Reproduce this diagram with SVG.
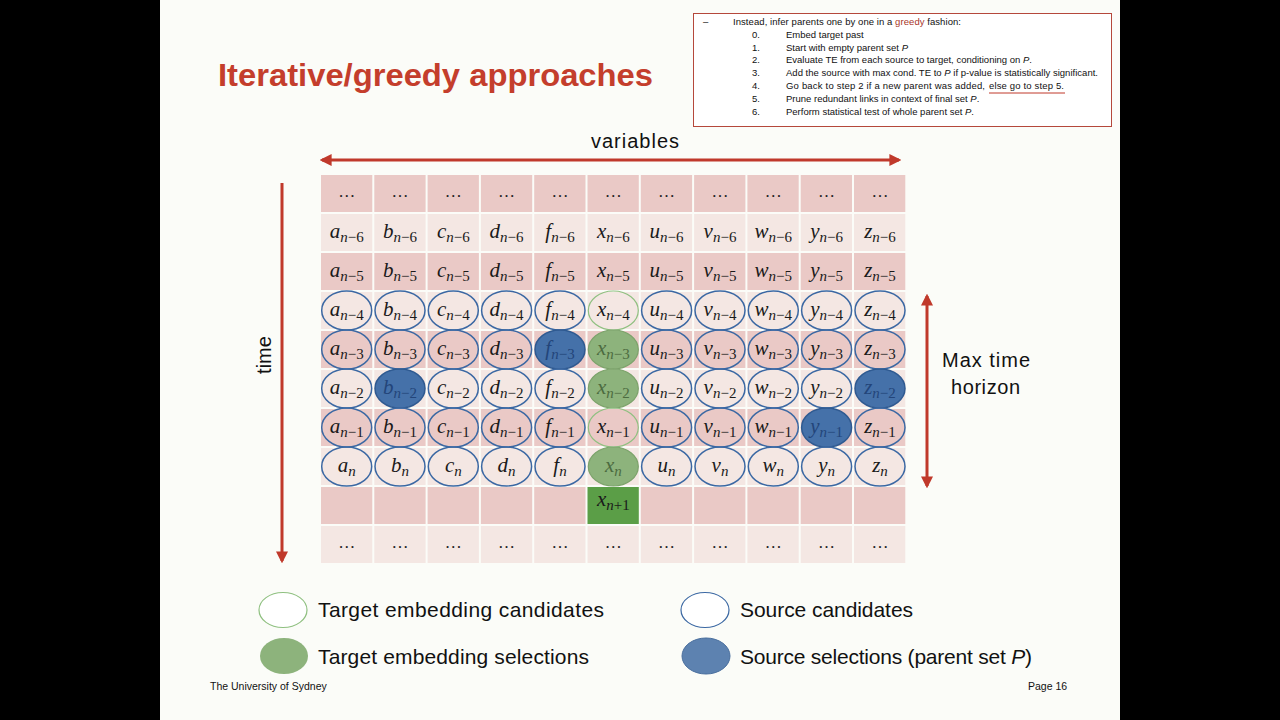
<svg xmlns="http://www.w3.org/2000/svg" width="1280" height="720" viewBox="0 0 1280 720">
<defs>
<style>
.bg{fill:#fbfcf8}
.pk{fill:#eac9c6}
.lt{fill:#f4e7e3}
.m{font-family:"Liberation Serif",serif;font-style:italic;font-size:21px;fill:#1a1a1a;text-anchor:middle}
.s{font-size:15px}
.u{font-size:15px;font-style:normal}
.dots{font-family:"Liberation Serif",serif;font-size:17px;fill:#222;text-anchor:middle}
.ec{fill:none;stroke:#3b68a3;stroke-width:1.5}
.es{fill:#4571a9;stroke:#2f5a91;stroke-width:1.5}
.tc{fill:none;stroke:#8fc080;stroke-width:1.2}
.ts{fill:#8db37c;stroke:#7ca36b;stroke-width:1.2}
.mb{fill:#23457a}
.mg{fill:#4c6b3f}
.arr{stroke:#c0392b;stroke-width:3;fill:none}
.lbl{font-family:"Liberation Sans",sans-serif;font-size:20px;fill:#111}
.leg{font-family:"Liberation Sans",sans-serif;font-size:21px;fill:#111}
.box{font-family:"Liberation Sans",sans-serif;font-size:9.5px;fill:#111}
.foot{font-family:"Liberation Sans",sans-serif;font-size:10.5px;fill:#111}
</style>
<marker id="ah" viewBox="0 0 10 10" refX="8" refY="5" markerWidth="4" markerHeight="4" orient="auto-start-reverse" markerUnits="strokeWidth">
<path d="M0,0 L10,5 L0,10 z" fill="#c0392b"/>
</marker>
</defs>
<rect x="0" y="0" width="1280" height="720" fill="#000"/>
<rect class="bg" x="160" y="0" width="960" height="720"/>

<g id="title">
<text x="218" y="86" font-family="Liberation Sans, sans-serif" font-weight="bold" font-size="31" fill="#c43e2c" textLength="435" lengthAdjust="spacingAndGlyphs">Iterative/greedy approaches</text>
</g>

<g id="algorithm-box">
<rect x="693.5" y="13.5" width="418" height="113" fill="#fff" stroke="#b5483b" stroke-width="1"/>
<text class="box" x="703" y="25">–</text>
<text class="box" x="733" y="25" textLength="228">Instead, infer parents one by one in a <tspan fill="#a8362a">greedy</tspan> fashion:</text>
<text class="box" x="752" y="38">0.</text><text class="box" x="786" y="38">Embed target past</text>
<text class="box" x="752" y="51">1.</text><text class="box" x="786" y="51">Start with empty parent set <tspan font-style="italic">P</tspan></text>
<text class="box" x="752" y="63">2.</text><text class="box" x="786" y="63">Evaluate TE from each source to target, conditioning on <tspan font-style="italic">P</tspan>.</text>
<text class="box" x="752" y="76">3.</text><text class="box" x="786" y="76" textLength="312">Add the source with max cond. TE to <tspan font-style="italic">P</tspan> if p-value is statistically significant.</text>
<text class="box" x="752" y="89">4.</text><text class="box" x="786" y="89" textLength="199">Go back to step 2 if a new parent was added,</text><text class="box" x="989" y="89" textLength="75">else go to step 5.</text>
<line x1="989" y1="93" x2="1065" y2="93" stroke="#c0392b" stroke-width="1"/>
<text class="box" x="752" y="102">5.</text><text class="box" x="786" y="102">Prune redundant links in context of final set <tspan font-style="italic">P</tspan>.</text>
<text class="box" x="752" y="115">6.</text><text class="box" x="786" y="115">Perform statistical test of whole parent set <tspan font-style="italic">P</tspan>.</text>
</g>

<g id="connectors">
<line class="arr" x1="322" y1="160" x2="899" y2="160" marker-start="url(#ah)" marker-end="url(#ah)"/>
<line class="arr" x1="282" y1="183" x2="282" y2="561" marker-end="url(#ah)"/>
<line class="arr" x1="927" y1="296" x2="927" y2="486" marker-start="url(#ah)" marker-end="url(#ah)"/>
</g>

<g id="axis-labels">
<text class="lbl" x="591" y="148" textLength="88">variables</text>
<text class="lbl" x="0" y="0" text-anchor="middle" transform="translate(271,355) rotate(-90)">time</text>
<text class="lbl" x="942" y="367" textLength="88">Max time</text>
<text class="lbl" x="951" y="394" textLength="69">horizon</text>
</g>

<g id="grid-cells">
<g id="row-top-dots">
<rect class="pk" x="321" y="175" width="51.3" height="37"/><rect class="pk" x="374.3" y="175" width="51.3" height="37"/><rect class="pk" x="427.6" y="175" width="51.3" height="37"/><rect class="pk" x="480.9" y="175" width="51.3" height="37"/><rect class="pk" x="534.2" y="175" width="51.3" height="37"/><rect class="pk" x="587.5" y="175" width="51.3" height="37"/><rect class="pk" x="640.8" y="175" width="51.3" height="37"/><rect class="pk" x="694.1" y="175" width="51.3" height="37"/><rect class="pk" x="747.4" y="175" width="51.3" height="37"/><rect class="pk" x="800.7" y="175" width="51.3" height="37"/><rect class="pk" x="854" y="175" width="51.3" height="37"/>
<text class="dots" x="346.7" y="197">…</text><text class="dots" x="400" y="197">…</text><text class="dots" x="453.3" y="197">…</text><text class="dots" x="506.6" y="197">…</text><text class="dots" x="560" y="197">…</text><text class="dots" x="613.3" y="197">…</text><text class="dots" x="666.6" y="197">…</text><text class="dots" x="720" y="197">…</text><text class="dots" x="773.3" y="197">…</text><text class="dots" x="826.6" y="197">…</text><text class="dots" x="880" y="197">…</text>
</g>
<g id="row-n6">
<rect class="lt" x="321" y="214" width="51.3" height="37"/><rect class="lt" x="374.3" y="214" width="51.3" height="37"/><rect class="lt" x="427.6" y="214" width="51.3" height="37"/><rect class="lt" x="480.9" y="214" width="51.3" height="37"/><rect class="lt" x="534.2" y="214" width="51.3" height="37"/><rect class="lt" x="587.5" y="214" width="51.3" height="37"/><rect class="lt" x="640.8" y="214" width="51.3" height="37"/><rect class="lt" x="694.1" y="214" width="51.3" height="37"/><rect class="lt" x="747.4" y="214" width="51.3" height="37"/><rect class="lt" x="800.7" y="214" width="51.3" height="37"/><rect class="lt" x="854" y="214" width="51.3" height="37"/>
<text class="m" x="346.7" y="238">a<tspan class="s" dy="4">n</tspan><tspan class="u">−6</tspan></text>
<text class="m" x="400" y="238">b<tspan class="s" dy="4">n</tspan><tspan class="u">−6</tspan></text>
<text class="m" x="453.3" y="238">c<tspan class="s" dy="4">n</tspan><tspan class="u">−6</tspan></text>
<text class="m" x="506.6" y="238">d<tspan class="s" dy="4">n</tspan><tspan class="u">−6</tspan></text>
<text class="m" x="560" y="238">f<tspan class="s" dy="4">n</tspan><tspan class="u">−6</tspan></text>
<text class="m" x="613.3" y="238">x<tspan class="s" dy="4">n</tspan><tspan class="u">−6</tspan></text>
<text class="m" x="666.6" y="238">u<tspan class="s" dy="4">n</tspan><tspan class="u">−6</tspan></text>
<text class="m" x="720" y="238">v<tspan class="s" dy="4">n</tspan><tspan class="u">−6</tspan></text>
<text class="m" x="773.3" y="238">w<tspan class="s" dy="4">n</tspan><tspan class="u">−6</tspan></text>
<text class="m" x="826.6" y="238">y<tspan class="s" dy="4">n</tspan><tspan class="u">−6</tspan></text>
<text class="m" x="880" y="238">z<tspan class="s" dy="4">n</tspan><tspan class="u">−6</tspan></text>
</g>
<g id="row-n5">
<rect class="pk" x="321" y="253" width="51.3" height="37"/><rect class="pk" x="374.3" y="253" width="51.3" height="37"/><rect class="pk" x="427.6" y="253" width="51.3" height="37"/><rect class="pk" x="480.9" y="253" width="51.3" height="37"/><rect class="pk" x="534.2" y="253" width="51.3" height="37"/><rect class="pk" x="587.5" y="253" width="51.3" height="37"/><rect class="pk" x="640.8" y="253" width="51.3" height="37"/><rect class="pk" x="694.1" y="253" width="51.3" height="37"/><rect class="pk" x="747.4" y="253" width="51.3" height="37"/><rect class="pk" x="800.7" y="253" width="51.3" height="37"/><rect class="pk" x="854" y="253" width="51.3" height="37"/>
<text class="m" x="346.7" y="277">a<tspan class="s" dy="4">n</tspan><tspan class="u">−5</tspan></text>
<text class="m" x="400" y="277">b<tspan class="s" dy="4">n</tspan><tspan class="u">−5</tspan></text>
<text class="m" x="453.3" y="277">c<tspan class="s" dy="4">n</tspan><tspan class="u">−5</tspan></text>
<text class="m" x="506.6" y="277">d<tspan class="s" dy="4">n</tspan><tspan class="u">−5</tspan></text>
<text class="m" x="560" y="277">f<tspan class="s" dy="4">n</tspan><tspan class="u">−5</tspan></text>
<text class="m" x="613.3" y="277">x<tspan class="s" dy="4">n</tspan><tspan class="u">−5</tspan></text>
<text class="m" x="666.6" y="277">u<tspan class="s" dy="4">n</tspan><tspan class="u">−5</tspan></text>
<text class="m" x="720" y="277">v<tspan class="s" dy="4">n</tspan><tspan class="u">−5</tspan></text>
<text class="m" x="773.3" y="277">w<tspan class="s" dy="4">n</tspan><tspan class="u">−5</tspan></text>
<text class="m" x="826.6" y="277">y<tspan class="s" dy="4">n</tspan><tspan class="u">−5</tspan></text>
<text class="m" x="880" y="277">z<tspan class="s" dy="4">n</tspan><tspan class="u">−5</tspan></text>
</g>
<g id="row-bg-rest">
<rect class="lt" x="321" y="292" width="51.3" height="37"/><rect class="lt" x="374.3" y="292" width="51.3" height="37"/><rect class="lt" x="427.6" y="292" width="51.3" height="37"/><rect class="lt" x="480.9" y="292" width="51.3" height="37"/><rect class="lt" x="534.2" y="292" width="51.3" height="37"/><rect class="lt" x="587.5" y="292" width="51.3" height="37"/><rect class="lt" x="640.8" y="292" width="51.3" height="37"/><rect class="lt" x="694.1" y="292" width="51.3" height="37"/><rect class="lt" x="747.4" y="292" width="51.3" height="37"/><rect class="lt" x="800.7" y="292" width="51.3" height="37"/><rect class="lt" x="854" y="292" width="51.3" height="37"/>
<rect class="pk" x="321" y="331" width="51.3" height="37"/><rect class="pk" x="374.3" y="331" width="51.3" height="37"/><rect class="pk" x="427.6" y="331" width="51.3" height="37"/><rect class="pk" x="480.9" y="331" width="51.3" height="37"/><rect class="pk" x="534.2" y="331" width="51.3" height="37"/><rect class="pk" x="587.5" y="331" width="51.3" height="37"/><rect class="pk" x="640.8" y="331" width="51.3" height="37"/><rect class="pk" x="694.1" y="331" width="51.3" height="37"/><rect class="pk" x="747.4" y="331" width="51.3" height="37"/><rect class="pk" x="800.7" y="331" width="51.3" height="37"/><rect class="pk" x="854" y="331" width="51.3" height="37"/>
<rect class="lt" x="321" y="370" width="51.3" height="37"/><rect class="lt" x="374.3" y="370" width="51.3" height="37"/><rect class="lt" x="427.6" y="370" width="51.3" height="37"/><rect class="lt" x="480.9" y="370" width="51.3" height="37"/><rect class="lt" x="534.2" y="370" width="51.3" height="37"/><rect class="lt" x="587.5" y="370" width="51.3" height="37"/><rect class="lt" x="640.8" y="370" width="51.3" height="37"/><rect class="lt" x="694.1" y="370" width="51.3" height="37"/><rect class="lt" x="747.4" y="370" width="51.3" height="37"/><rect class="lt" x="800.7" y="370" width="51.3" height="37"/><rect class="lt" x="854" y="370" width="51.3" height="37"/>
<rect class="pk" x="321" y="409" width="51.3" height="37"/><rect class="pk" x="374.3" y="409" width="51.3" height="37"/><rect class="pk" x="427.6" y="409" width="51.3" height="37"/><rect class="pk" x="480.9" y="409" width="51.3" height="37"/><rect class="pk" x="534.2" y="409" width="51.3" height="37"/><rect class="pk" x="587.5" y="409" width="51.3" height="37"/><rect class="pk" x="640.8" y="409" width="51.3" height="37"/><rect class="pk" x="694.1" y="409" width="51.3" height="37"/><rect class="pk" x="747.4" y="409" width="51.3" height="37"/><rect class="pk" x="800.7" y="409" width="51.3" height="37"/><rect class="pk" x="854" y="409" width="51.3" height="37"/>
<rect class="lt" x="321" y="448" width="51.3" height="37"/><rect class="lt" x="374.3" y="448" width="51.3" height="37"/><rect class="lt" x="427.6" y="448" width="51.3" height="37"/><rect class="lt" x="480.9" y="448" width="51.3" height="37"/><rect class="lt" x="534.2" y="448" width="51.3" height="37"/><rect class="lt" x="587.5" y="448" width="51.3" height="37"/><rect class="lt" x="640.8" y="448" width="51.3" height="37"/><rect class="lt" x="694.1" y="448" width="51.3" height="37"/><rect class="lt" x="747.4" y="448" width="51.3" height="37"/><rect class="lt" x="800.7" y="448" width="51.3" height="37"/><rect class="lt" x="854" y="448" width="51.3" height="37"/>
<rect class="pk" x="321" y="487" width="51.3" height="37"/><rect class="pk" x="374.3" y="487" width="51.3" height="37"/><rect class="pk" x="427.6" y="487" width="51.3" height="37"/><rect class="pk" x="480.9" y="487" width="51.3" height="37"/><rect class="pk" x="534.2" y="487" width="51.3" height="37"/><rect class="pk" x="640.8" y="487" width="51.3" height="37"/><rect class="pk" x="694.1" y="487" width="51.3" height="37"/><rect class="pk" x="747.4" y="487" width="51.3" height="37"/><rect class="pk" x="800.7" y="487" width="51.3" height="37"/><rect class="pk" x="854" y="487" width="51.3" height="37"/>
</g>
<g id="target-next">
<rect x="587.5" y="487" width="51.3" height="37" fill="#5b9e47"/>
<text class="m" x="613.3" y="506" fill="#1f2e17">x<tspan class="s" dy="4">n</tspan><tspan class="u">+1</tspan></text>
</g>
<g id="row-bottom-dots">
<rect class="lt" x="321" y="526" width="51.3" height="37"/><rect class="lt" x="374.3" y="526" width="51.3" height="37"/><rect class="lt" x="427.6" y="526" width="51.3" height="37"/><rect class="lt" x="480.9" y="526" width="51.3" height="37"/><rect class="lt" x="534.2" y="526" width="51.3" height="37"/><rect class="lt" x="587.5" y="526" width="51.3" height="37"/><rect class="lt" x="640.8" y="526" width="51.3" height="37"/><rect class="lt" x="694.1" y="526" width="51.3" height="37"/><rect class="lt" x="747.4" y="526" width="51.3" height="37"/><rect class="lt" x="800.7" y="526" width="51.3" height="37"/><rect class="lt" x="854" y="526" width="51.3" height="37"/>
<text class="dots" x="346.7" y="548">…</text><text class="dots" x="400" y="548">…</text><text class="dots" x="453.3" y="548">…</text><text class="dots" x="506.6" y="548">…</text><text class="dots" x="560" y="548">…</text><text class="dots" x="613.3" y="548">…</text><text class="dots" x="666.6" y="548">…</text><text class="dots" x="720" y="548">…</text><text class="dots" x="773.3" y="548">…</text><text class="dots" x="826.6" y="548">…</text><text class="dots" x="880" y="548">…</text>
</g>
</g>

<g id="candidates">
<g id="a-n4"><ellipse class="ec" cx="346.7" cy="310.5" rx="25" ry="19.5"/><text class="m" x="346.7" y="316">a<tspan class="s" dy="4">n</tspan><tspan class="u">−4</tspan></text></g>
<g id="b-n4"><ellipse class="ec" cx="400" cy="310.5" rx="25" ry="19.5"/><text class="m" x="400" y="316">b<tspan class="s" dy="4">n</tspan><tspan class="u">−4</tspan></text></g>
<g id="c-n4"><ellipse class="ec" cx="453.3" cy="310.5" rx="25" ry="19.5"/><text class="m" x="453.3" y="316">c<tspan class="s" dy="4">n</tspan><tspan class="u">−4</tspan></text></g>
<g id="d-n4"><ellipse class="ec" cx="506.6" cy="310.5" rx="25" ry="19.5"/><text class="m" x="506.6" y="316">d<tspan class="s" dy="4">n</tspan><tspan class="u">−4</tspan></text></g>
<g id="f-n4"><ellipse class="ec" cx="560" cy="310.5" rx="25" ry="19.5"/><text class="m" x="560" y="316">f<tspan class="s" dy="4">n</tspan><tspan class="u">−4</tspan></text></g>
<g id="x-n4"><ellipse class="tc" cx="613.3" cy="310.5" rx="25" ry="19.5"/><text class="m" x="613.3" y="316">x<tspan class="s" dy="4">n</tspan><tspan class="u">−4</tspan></text></g>
<g id="u-n4"><ellipse class="ec" cx="666.6" cy="310.5" rx="25" ry="19.5"/><text class="m" x="666.6" y="316">u<tspan class="s" dy="4">n</tspan><tspan class="u">−4</tspan></text></g>
<g id="v-n4"><ellipse class="ec" cx="720" cy="310.5" rx="25" ry="19.5"/><text class="m" x="720" y="316">v<tspan class="s" dy="4">n</tspan><tspan class="u">−4</tspan></text></g>
<g id="w-n4"><ellipse class="ec" cx="773.3" cy="310.5" rx="25" ry="19.5"/><text class="m" x="773.3" y="316">w<tspan class="s" dy="4">n</tspan><tspan class="u">−4</tspan></text></g>
<g id="y-n4"><ellipse class="ec" cx="826.6" cy="310.5" rx="25" ry="19.5"/><text class="m" x="826.6" y="316">y<tspan class="s" dy="4">n</tspan><tspan class="u">−4</tspan></text></g>
<g id="z-n4"><ellipse class="ec" cx="880" cy="310.5" rx="25" ry="19.5"/><text class="m" x="880" y="316">z<tspan class="s" dy="4">n</tspan><tspan class="u">−4</tspan></text></g>
<g id="a-n3"><ellipse class="ec" cx="346.7" cy="349.5" rx="25" ry="19.5"/><text class="m" x="346.7" y="355">a<tspan class="s" dy="4">n</tspan><tspan class="u">−3</tspan></text></g>
<g id="b-n3"><ellipse class="ec" cx="400" cy="349.5" rx="25" ry="19.5"/><text class="m" x="400" y="355">b<tspan class="s" dy="4">n</tspan><tspan class="u">−3</tspan></text></g>
<g id="c-n3"><ellipse class="ec" cx="453.3" cy="349.5" rx="25" ry="19.5"/><text class="m" x="453.3" y="355">c<tspan class="s" dy="4">n</tspan><tspan class="u">−3</tspan></text></g>
<g id="d-n3"><ellipse class="ec" cx="506.6" cy="349.5" rx="25" ry="19.5"/><text class="m" x="506.6" y="355">d<tspan class="s" dy="4">n</tspan><tspan class="u">−3</tspan></text></g>
<g id="f-n3"><ellipse class="es" cx="560" cy="349.5" rx="25" ry="19.5"/><text class="m mb" x="560" y="355">f<tspan class="s" dy="4">n</tspan><tspan class="u">−3</tspan></text></g>
<g id="x-n3"><ellipse class="ts" cx="613.3" cy="349.5" rx="25" ry="19.5"/><text class="m mg" x="613.3" y="355">x<tspan class="s" dy="4">n</tspan><tspan class="u">−3</tspan></text></g>
<g id="u-n3"><ellipse class="ec" cx="666.6" cy="349.5" rx="25" ry="19.5"/><text class="m" x="666.6" y="355">u<tspan class="s" dy="4">n</tspan><tspan class="u">−3</tspan></text></g>
<g id="v-n3"><ellipse class="ec" cx="720" cy="349.5" rx="25" ry="19.5"/><text class="m" x="720" y="355">v<tspan class="s" dy="4">n</tspan><tspan class="u">−3</tspan></text></g>
<g id="w-n3"><ellipse class="ec" cx="773.3" cy="349.5" rx="25" ry="19.5"/><text class="m" x="773.3" y="355">w<tspan class="s" dy="4">n</tspan><tspan class="u">−3</tspan></text></g>
<g id="y-n3"><ellipse class="ec" cx="826.6" cy="349.5" rx="25" ry="19.5"/><text class="m" x="826.6" y="355">y<tspan class="s" dy="4">n</tspan><tspan class="u">−3</tspan></text></g>
<g id="z-n3"><ellipse class="ec" cx="880" cy="349.5" rx="25" ry="19.5"/><text class="m" x="880" y="355">z<tspan class="s" dy="4">n</tspan><tspan class="u">−3</tspan></text></g>
<g id="a-n2"><ellipse class="ec" cx="346.7" cy="388.5" rx="25" ry="19.5"/><text class="m" x="346.7" y="394">a<tspan class="s" dy="4">n</tspan><tspan class="u">−2</tspan></text></g>
<g id="b-n2"><ellipse class="es" cx="400" cy="388.5" rx="25" ry="19.5"/><text class="m mb" x="400" y="394">b<tspan class="s" dy="4">n</tspan><tspan class="u">−2</tspan></text></g>
<g id="c-n2"><ellipse class="ec" cx="453.3" cy="388.5" rx="25" ry="19.5"/><text class="m" x="453.3" y="394">c<tspan class="s" dy="4">n</tspan><tspan class="u">−2</tspan></text></g>
<g id="d-n2"><ellipse class="ec" cx="506.6" cy="388.5" rx="25" ry="19.5"/><text class="m" x="506.6" y="394">d<tspan class="s" dy="4">n</tspan><tspan class="u">−2</tspan></text></g>
<g id="f-n2"><ellipse class="ec" cx="560" cy="388.5" rx="25" ry="19.5"/><text class="m" x="560" y="394">f<tspan class="s" dy="4">n</tspan><tspan class="u">−2</tspan></text></g>
<g id="x-n2"><ellipse class="ts" cx="613.3" cy="388.5" rx="25" ry="19.5"/><text class="m mg" x="613.3" y="394">x<tspan class="s" dy="4">n</tspan><tspan class="u">−2</tspan></text></g>
<g id="u-n2"><ellipse class="ec" cx="666.6" cy="388.5" rx="25" ry="19.5"/><text class="m" x="666.6" y="394">u<tspan class="s" dy="4">n</tspan><tspan class="u">−2</tspan></text></g>
<g id="v-n2"><ellipse class="ec" cx="720" cy="388.5" rx="25" ry="19.5"/><text class="m" x="720" y="394">v<tspan class="s" dy="4">n</tspan><tspan class="u">−2</tspan></text></g>
<g id="w-n2"><ellipse class="ec" cx="773.3" cy="388.5" rx="25" ry="19.5"/><text class="m" x="773.3" y="394">w<tspan class="s" dy="4">n</tspan><tspan class="u">−2</tspan></text></g>
<g id="y-n2"><ellipse class="ec" cx="826.6" cy="388.5" rx="25" ry="19.5"/><text class="m" x="826.6" y="394">y<tspan class="s" dy="4">n</tspan><tspan class="u">−2</tspan></text></g>
<g id="z-n2"><ellipse class="es" cx="880" cy="388.5" rx="25" ry="19.5"/><text class="m mb" x="880" y="394">z<tspan class="s" dy="4">n</tspan><tspan class="u">−2</tspan></text></g>
<g id="a-n1"><ellipse class="ec" cx="346.7" cy="427.5" rx="25" ry="19.5"/><text class="m" x="346.7" y="433">a<tspan class="s" dy="4">n</tspan><tspan class="u">−1</tspan></text></g>
<g id="b-n1"><ellipse class="ec" cx="400" cy="427.5" rx="25" ry="19.5"/><text class="m" x="400" y="433">b<tspan class="s" dy="4">n</tspan><tspan class="u">−1</tspan></text></g>
<g id="c-n1"><ellipse class="ec" cx="453.3" cy="427.5" rx="25" ry="19.5"/><text class="m" x="453.3" y="433">c<tspan class="s" dy="4">n</tspan><tspan class="u">−1</tspan></text></g>
<g id="d-n1"><ellipse class="ec" cx="506.6" cy="427.5" rx="25" ry="19.5"/><text class="m" x="506.6" y="433">d<tspan class="s" dy="4">n</tspan><tspan class="u">−1</tspan></text></g>
<g id="f-n1"><ellipse class="ec" cx="560" cy="427.5" rx="25" ry="19.5"/><text class="m" x="560" y="433">f<tspan class="s" dy="4">n</tspan><tspan class="u">−1</tspan></text></g>
<g id="x-n1"><ellipse class="tc" cx="613.3" cy="427.5" rx="25" ry="19.5" stroke="#a9b59a"/><text class="m" x="613.3" y="433">x<tspan class="s" dy="4">n</tspan><tspan class="u">−1</tspan></text></g>
<g id="u-n1"><ellipse class="ec" cx="666.6" cy="427.5" rx="25" ry="19.5"/><text class="m" x="666.6" y="433">u<tspan class="s" dy="4">n</tspan><tspan class="u">−1</tspan></text></g>
<g id="v-n1"><ellipse class="ec" cx="720" cy="427.5" rx="25" ry="19.5"/><text class="m" x="720" y="433">v<tspan class="s" dy="4">n</tspan><tspan class="u">−1</tspan></text></g>
<g id="w-n1"><ellipse class="ec" cx="773.3" cy="427.5" rx="25" ry="19.5"/><text class="m" x="773.3" y="433">w<tspan class="s" dy="4">n</tspan><tspan class="u">−1</tspan></text></g>
<g id="y-n1"><ellipse class="es" cx="826.6" cy="427.5" rx="25" ry="19.5"/><text class="m mb" x="826.6" y="433">y<tspan class="s" dy="4">n</tspan><tspan class="u">−1</tspan></text></g>
<g id="z-n1"><ellipse class="ec" cx="880" cy="427.5" rx="25" ry="19.5"/><text class="m" x="880" y="433">z<tspan class="s" dy="4">n</tspan><tspan class="u">−1</tspan></text></g>
<g id="a-n"><ellipse class="ec" cx="346.7" cy="466.5" rx="25" ry="19.5"/><text class="m" x="346.7" y="472">a<tspan class="s" dy="4">n</tspan></text></g>
<g id="b-n"><ellipse class="ec" cx="400" cy="466.5" rx="25" ry="19.5"/><text class="m" x="400" y="472">b<tspan class="s" dy="4">n</tspan></text></g>
<g id="c-n"><ellipse class="ec" cx="453.3" cy="466.5" rx="25" ry="19.5"/><text class="m" x="453.3" y="472">c<tspan class="s" dy="4">n</tspan></text></g>
<g id="d-n"><ellipse class="ec" cx="506.6" cy="466.5" rx="25" ry="19.5"/><text class="m" x="506.6" y="472">d<tspan class="s" dy="4">n</tspan></text></g>
<g id="f-n"><ellipse class="ec" cx="560" cy="466.5" rx="25" ry="19.5"/><text class="m" x="560" y="472">f<tspan class="s" dy="4">n</tspan></text></g>
<g id="x-n"><ellipse class="ts" cx="613.3" cy="466.5" rx="25" ry="19.5"/><text class="m mg" x="613.3" y="472">x<tspan class="s" dy="4">n</tspan></text></g>
<g id="u-n"><ellipse class="ec" cx="666.6" cy="466.5" rx="25" ry="19.5"/><text class="m" x="666.6" y="472">u<tspan class="s" dy="4">n</tspan></text></g>
<g id="v-n"><ellipse class="ec" cx="720" cy="466.5" rx="25" ry="19.5"/><text class="m" x="720" y="472">v<tspan class="s" dy="4">n</tspan></text></g>
<g id="w-n"><ellipse class="ec" cx="773.3" cy="466.5" rx="25" ry="19.5"/><text class="m" x="773.3" y="472">w<tspan class="s" dy="4">n</tspan></text></g>
<g id="y-n"><ellipse class="ec" cx="826.6" cy="466.5" rx="25" ry="19.5"/><text class="m" x="826.6" y="472">y<tspan class="s" dy="4">n</tspan></text></g>
<g id="z-n"><ellipse class="ec" cx="880" cy="466.5" rx="25" ry="19.5"/><text class="m" x="880" y="472">z<tspan class="s" dy="4">n</tspan></text></g>
</g>

<g id="legend">
<g id="legend-target-cand"><ellipse cx="283" cy="610" rx="24" ry="17.5" fill="#fff" stroke="#8fc080" stroke-width="1.2"/><text class="leg" x="318" y="617" textLength="286">Target embedding candidates</text></g>
<g id="legend-target-sel"><ellipse cx="284" cy="656" rx="24" ry="18" fill="#8db37c"/><text class="leg" x="318" y="664" textLength="271">Target embedding selections</text></g>
<g id="legend-source-cand"><ellipse cx="705" cy="610" rx="24" ry="17.5" fill="#fff" stroke="#3b68a3" stroke-width="1.2"/><text class="leg" x="740" y="617" textLength="173">Source candidates</text></g>
<g id="legend-source-sel"><ellipse cx="706" cy="656" rx="24" ry="18" fill="#5d82b0" stroke="#4a6f9e" stroke-width="1"/><text class="leg" x="740" y="664" textLength="292">Source selections (parent set <tspan font-style="italic">P</tspan>)</text></g>
</g>

<g id="footer">
<text class="foot" x="210" y="690">The University of Sydney</text>
<text class="foot" x="1028" y="690">Page 16</text>
</g>
</svg>
